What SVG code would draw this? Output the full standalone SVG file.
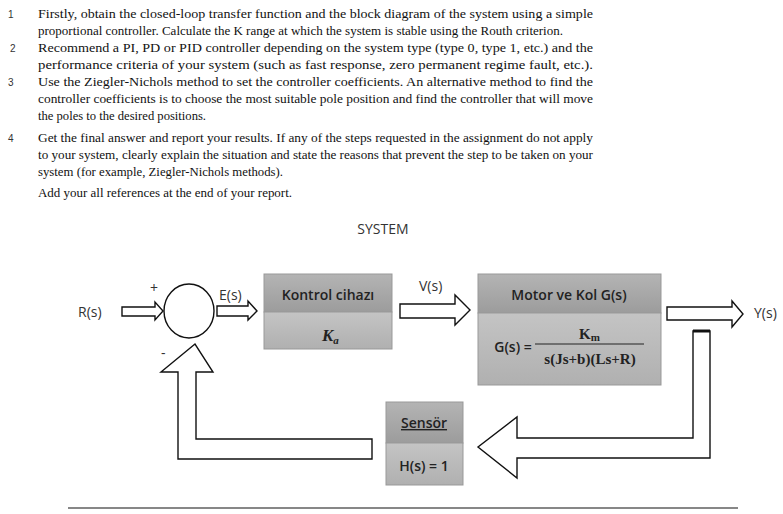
<svg xmlns="http://www.w3.org/2000/svg" width="783" height="514" viewBox="0 0 783 514">
<defs>
<linearGradient id="hd" x1="0" y1="0" x2="0" y2="1"><stop offset="0" stop-color="#b4b4b4"/><stop offset="1" stop-color="#9c9c9c"/></linearGradient>
<linearGradient id="bd" x1="0" y1="0" x2="0" y2="1"><stop offset="0" stop-color="#c4c4c4"/><stop offset="1" stop-color="#b0b0b0"/></linearGradient>
</defs>
<style>
.t{font-family:"Liberation Serif",serif;font-size:13px;fill:#111}
.n{font-family:"Liberation Sans",sans-serif;font-size:10px;fill:#333}
.l{font-family:"Open Sans","Liberation Sans",sans-serif;font-size:14px;fill:#333}
.b{font-family:"Open Sans","Liberation Sans",sans-serif;font-size:14px;font-weight:600;fill:#222;text-anchor:middle}
.arr{fill:#fff;stroke:#111;stroke-width:1.4}
.hd{fill:url(#hd);stroke:#999;stroke-width:1}
.bd{fill:url(#bd);stroke:#999;stroke-width:1}
</style>
<rect width="783" height="514" fill="#fff"/>
<g id="text">
<text class="n" x="8" y="18">1</text>
<text class="t" x="38" y="18" textLength="555" lengthAdjust="spacingAndGlyphs">Firstly, obtain the closed-loop transfer function and the block diagram of the system using a simple</text>
<text class="t" x="38" y="35" textLength="525" lengthAdjust="spacingAndGlyphs">proportional controller. Calculate the K range at which the system is stable using the Routh criterion.</text>
<text class="n" x="10" y="52">2</text>
<text class="t" x="38" y="52" textLength="555" lengthAdjust="spacingAndGlyphs">Recommend a PI, PD or PID controller depending on the system type (type 0, type 1, etc.) and the</text>
<text class="t" x="38" y="69" textLength="555" lengthAdjust="spacingAndGlyphs">performance criteria of your system (such as fast response, zero permanent regime fault, etc.).</text>
<text class="n" x="8" y="86">3</text>
<text class="t" x="38" y="86" textLength="555" lengthAdjust="spacingAndGlyphs">Use the Ziegler-Nichols method to set the controller coefficients. An alternative method to find the</text>
<text class="t" x="38" y="103" textLength="555" lengthAdjust="spacingAndGlyphs">controller coefficients is to choose the most suitable pole position and find the controller that will move</text>
<text class="t" x="38" y="120" textLength="168" lengthAdjust="spacingAndGlyphs">the poles to the desired positions.</text>
<text class="n" x="8" y="142">4</text>
<text class="t" x="38" y="142" textLength="555" lengthAdjust="spacingAndGlyphs">Get the final answer and report your results. If any of the steps requested in the assignment do not apply</text>
<text class="t" x="38" y="159" textLength="555" lengthAdjust="spacingAndGlyphs">to your system, clearly explain the situation and state the reasons that prevent the step to be taken on your</text>
<text class="t" x="38" y="176" textLength="245" lengthAdjust="spacingAndGlyphs">system (for example, Ziegler-Nichols methods).</text>
<text class="t" x="38" y="197" textLength="254" lengthAdjust="spacingAndGlyphs">Add your all references at the end of your report.</text>
<text class="l" x="383" y="234" text-anchor="middle">SYSTEM</text>
</g>
<g id="labels">
<text class="l" x="78" y="317">R(s)</text>
<text class="l" x="150" y="293">+</text>
<text class="l" x="161" y="358">-</text>
<text class="l" x="219" y="300">E(s)</text>
<text class="l" x="419" y="291">V(s)</text>
<text class="l" x="754" y="318">Y(s)</text>
</g>
<g id="connectors">
<polygon class="arr" points="122,307 155,307 155,302 163,311 155,320 155,316 122,316"/>
<polygon class="arr" points="217,306 248,306 248,301 257,311 248,320 248,316 217,316"/>
<polygon class="arr" points="400,304 455,304 455,295 470,310 455,325 455,318 400,318"/>
<polygon class="arr" points="667,307 732,307 732,301 743,314 732,327 732,320 667,320"/>
<polygon class="arr" points="693,331 710,331 710,458 517,458 517,478 478,447 517,417 517,438 693,438"/>
<line x1="693" y1="331" x2="710" y2="331" stroke="#111" stroke-width="3"/>
<polygon class="arr" points="372,439 196,439 196,372 213,372 195,344 161,372 178,372 178,459 372,459"/>
</g>
<g id="sum">
<ellipse cx="189" cy="311" rx="25" ry="27" fill="#fff" stroke="#111" stroke-width="1.4"/>
</g>
<g id="controller">
<rect class="hd" x="264" y="274" width="128" height="38"/>
<rect class="bd" x="264" y="312" width="128" height="37"/>
<text class="b" x="328" y="300">Kontrol cihazı</text>
<text x="322" y="341" font-family="Liberation Serif,serif" font-style="italic" font-weight="bold" font-size="17" fill="#222">K<tspan font-size="11" dy="3">a</tspan></text>
</g>
<g id="motor">
<rect class="hd" x="478" y="274" width="183" height="39"/>
<rect class="bd" x="478" y="313" width="183" height="72"/>
<text class="b" x="569" y="300">Motor ve Kol G(s)</text>
<text class="b" x="513" y="352" font-weight="normal">G(s) =</text>
<line x1="535" y1="344" x2="644" y2="344" stroke="#222" stroke-width="1"/>
<text x="579" y="339" font-family="Liberation Serif,serif" font-weight="bold" font-size="15" fill="#222">K<tspan font-size="11" dy="2">m</tspan></text>
<text x="590" y="364" text-anchor="middle" font-family="Liberation Serif,serif" font-weight="bold" font-size="15" fill="#222">s(Js+b)(Ls+R)</text>
</g>
<g id="sensor">
<rect class="hd" x="386" y="402" width="77" height="41"/>
<rect class="bd" x="386" y="443" width="77" height="42"/>
<text class="b" x="424" y="428" text-decoration="underline">Sensör</text>
<text class="b" x="424" y="471">H(s) = 1</text>
</g>
<line x1="68" y1="508" x2="738" y2="508" stroke="#111" stroke-width="1.2"/>
</svg>
